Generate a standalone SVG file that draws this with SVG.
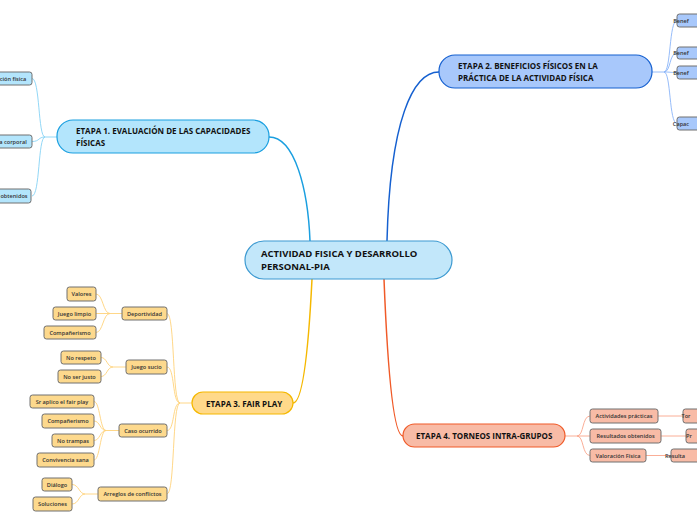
<svg xmlns="http://www.w3.org/2000/svg" width="697" height="520" viewBox="0 0 697 520">
<style>
.t{font-family:"Open Sans","Noto Sans","Liberation Sans",sans-serif;font-weight:bold;fill:#111}
.s{font-family:"Open Sans","Noto Sans","Liberation Sans",sans-serif;font-size:5.6px;font-weight:600;fill:#333;text-anchor:middle}
.sb{stroke:#707070;stroke-width:1}
.c{fill:none}
.b1{fill:#b3e5fc}
.b2{fill:#a8c8fb}
.b3{fill:#fdd98d}
.b4{fill:#f8bba6}
</style>
<rect width="697" height="520" fill="#fff"/>
<g id="connectors" class="c">
<path d="M269,137 C295,137 308,190 310,241" stroke="#1a9fe0" stroke-width="1.5"/>
<path d="M387,241 C390,120 413,72 439,72" stroke="#1560d0" stroke-width="1.5"/>
<path d="M312,279 C308,360 302,403 293,403" stroke="#f5b800" stroke-width="1.5"/>
<path d="M384,279 C388,380 394,436 403,436" stroke="#f05a28" stroke-width="1.5"/>
<g stroke="#86d3f5" stroke-width="0.9">
<path d="M57,137 H45"/>
<path d="M45,137 C38,137 40,78.5 32,78.5"/>
<path d="M45,137 C38,137 40,141.5 32,141.5"/>
<path d="M45,137 C38,137 40,196 32,196"/>
</g>
<g stroke="#8ab4f8" stroke-width="0.9">
<path d="M652,72 H664"/>
<path d="M664,72 C671,72 669,20.5 677,20.5"/>
<path d="M664,72 C671,72 669,53 677,53"/>
<path d="M664,72 C671,72 669,72.5 677,72.5"/>
<path d="M664,72 C671,72 669,123.5 677,123.5"/>
</g>
<g stroke="#ffd27a" stroke-width="0.9">
<path d="M192,403 H180"/>
<path d="M180,403 C172,403 175,313.5 167,313.5"/>
<path d="M180,403 C172,403 175,367 167,367"/>
<path d="M180,403 C172,403 175,430.5 167,430.5"/>
<path d="M180,403 C172,403 175,494 167,494"/>
<path d="M122,313.5 H110"/>
<path d="M110,313.5 C103,313.5 103,294 96,294"/>
<path d="M110,313.5 H96"/>
<path d="M110,313.5 C103,313.5 103,332.5 96,332.5"/>
<path d="M126,367 H113"/>
<path d="M113,367 C107,367 107,357.5 101,357.5"/>
<path d="M113,367 C107,367 107,376.5 101,376.5"/>
<path d="M119,430.5 H106"/>
<path d="M106,430.5 C100,430.5 100,401.5 94,401.5"/>
<path d="M106,430.5 C100,430.5 100,421 94,421"/>
<path d="M106,430.5 C100,430.5 100,440.5 94,440.5"/>
<path d="M106,430.5 C100,430.5 100,460 94,460"/>
<path d="M98,494 H85"/>
<path d="M85,494 C79,494 79,484.5 72,484.5"/>
<path d="M85,494 C79,494 79,504 72,504"/>
</g>
<g stroke="#f9a58b" stroke-width="0.9">
<path d="M565,436 H577"/>
<path d="M577,436 C584,436 582,416 590,416"/>
<path d="M577,436 H590"/>
<path d="M577,436 C584,436 582,455.5 590,455.5"/>
<path d="M658,416 H683"/>
<path d="M661,436 H686"/>
<path d="M646,455.5 H671"/>
</g>
</g>
<g id="center">
<rect x="245" y="241" width="207" height="38" rx="19" fill="#c2e7fa" stroke="#3d9ad1" stroke-width="1.2"/>
<text class="t" font-size="9.5"><tspan x="261" y="257">ACTIVIDAD FISICA Y DESARROLLO</tspan><tspan x="261" y="270">PERSONAL-PIA</tspan></text>
</g>
<g id="etapa1">
<rect x="57" y="120" width="212" height="33" rx="16" fill="#b3e5fc" stroke="#1a9fe0" stroke-width="1.2"/>
<text class="t" font-size="8"><tspan x="76" y="134">ETAPA 1. EVALUACIÓN DE LAS CAPACIDADES</tspan><tspan x="76" y="145.5">FÍSICAS</tspan></text>
</g>
<g id="e1c1"><rect class="b1 sb" x="-10" y="72" width="42" height="13" rx="2.5"/><text class="s" x="13" y="80.5">ción física</text></g>
<g id="e1c2"><rect class="b1 sb" x="-10" y="135" width="42" height="13" rx="2.5"/><text class="s" x="13" y="143.5">a corporal</text></g>
<g id="e1c3"><rect class="b1 sb" x="-10" y="189" width="41" height="14" rx="2.5"/><text class="s" x="14" y="198">obtenidos</text></g>
<g id="etapa2">
<rect x="439" y="55" width="213" height="33" rx="16" fill="#a8c8fb" stroke="#1560d0" stroke-width="1.2"/>
<text class="t" font-size="8"><tspan x="458" y="69">ETAPA 2. BENEFICIOS FÍSICOS EN LA</tspan><tspan x="458" y="81">PRÁCTICA DE LA ACTIVIDAD FÍSICA</tspan></text>
</g>
<g id="e2c1"><rect class="b2 sb" x="677" y="14" width="30" height="13" rx="2.5"/><text class="s" x="681" y="22.5" text-anchor="start">Benef</text></g>
<g id="e2c2"><rect class="b2 sb" x="677" y="47" width="30" height="12" rx="2.5"/><text class="s" x="681" y="55" text-anchor="start">Benef</text></g>
<g id="e2c3"><rect class="b2 sb" x="677" y="66" width="30" height="13" rx="2.5"/><text class="s" x="681" y="74.5" text-anchor="start">Benef</text></g>
<g id="e2c4"><rect class="b2 sb" x="677" y="117" width="30" height="13" rx="2.5"/><text class="s" x="681" y="125.5" text-anchor="start">Capac</text></g>
<g id="etapa3">
<rect x="192" y="392" width="101" height="22" rx="11" fill="#ffd98a" stroke="#f5b800" stroke-width="1.2"/>
<text class="t" font-size="8" x="206" y="406.5">ETAPA 3. FAIR PLAY</text>
</g>
<g id="deportividad"><rect class="b3 sb" x="122" y="307" width="45" height="13" rx="2.5"/><text class="s" x="144.5" y="315.5">Deportividad</text></g>
<g id="valores"><rect class="b3 sb" x="67" y="287" width="29" height="14" rx="2.5"/><text class="s" x="81.5" y="296">Valores</text></g>
<g id="juegolimpio"><rect class="b3 sb" x="53" y="307" width="43" height="13" rx="2.5"/><text class="s" x="74.5" y="315.5">Juego limpio</text></g>
<g id="comp1"><rect class="b3 sb" x="44" y="326" width="52" height="13" rx="2.5"/><text class="s" x="70" y="334.5">Compañerismo</text></g>
<g id="juegosucio"><rect class="b3 sb" x="126" y="360" width="41" height="14" rx="2.5"/><text class="s" x="146.5" y="369">Juego sucio</text></g>
<g id="norespeto"><rect class="b3 sb" x="61" y="351" width="40" height="13" rx="2.5"/><text class="s" x="81" y="359.5">No respeto</text></g>
<g id="noserjusto"><rect class="b3 sb" x="58" y="370" width="43" height="13" rx="2.5"/><text class="s" x="79.5" y="378.5">No ser justo</text></g>
<g id="caso"><rect class="b3 sb" x="119" y="424" width="48" height="13" rx="2.5"/><text class="s" x="143" y="432.5">Caso ocurrido</text></g>
<g id="sraplico"><rect class="b3 sb" x="30" y="395" width="64" height="13" rx="2.5"/><text class="s" x="62" y="403.5">Sr aplico el fair play</text></g>
<g id="comp2"><rect class="b3 sb" x="42" y="414" width="52" height="14" rx="2.5"/><text class="s" x="68" y="423">Compañerismo</text></g>
<g id="notrampas"><rect class="b3 sb" x="52" y="434" width="42" height="13" rx="2.5"/><text class="s" x="73" y="442.5">No trampas</text></g>
<g id="convivencia"><rect class="b3 sb" x="37" y="453" width="57" height="14" rx="2.5"/><text class="s" x="65.5" y="462">Convivencia sana</text></g>
<g id="arreglos"><rect class="b3 sb" x="98" y="487" width="69" height="14" rx="2.5"/><text class="s" x="132.5" y="496">Arreglos de conflictos</text></g>
<g id="dialogo"><rect class="b3 sb" x="42" y="478" width="30" height="13" rx="2.5"/><text class="s" x="57" y="486.5">Diálogo</text></g>
<g id="soluciones"><rect class="b3 sb" x="33" y="497" width="39" height="14" rx="2.5"/><text class="s" x="52.5" y="506">Soluciones</text></g>
<g id="etapa4">
<rect x="403" y="424" width="162" height="23" rx="11.5" fill="#f8bba6" stroke="#f05a28" stroke-width="1.2"/>
<text class="t" font-size="8" x="416" y="438.5">ETAPA 4. TORNEOS INTRA-GRUPOS</text>
</g>
<g id="actividades"><rect class="b4 sb" x="590" y="409" width="68" height="14" rx="2.5"/><text class="s" x="624" y="418">Actividades prácticas</text></g>
<g id="resultados"><rect class="b4 sb" x="590" y="429" width="71" height="14" rx="2.5"/><text class="s" x="625.5" y="438">Resultados obtenidos</text></g>
<g id="valoracion"><rect class="b4 sb" x="590" y="449" width="56" height="13" rx="2.5"/><text class="s" x="618" y="457.5">Valoración Física</text></g>
<g id="tor"><rect class="b4 sb" x="683" y="409" width="24" height="14" rx="2.5"/><text class="s" x="686" y="418" text-anchor="start">Tor</text></g>
<g id="pr"><rect class="b4 sb" x="686" y="429" width="21" height="14" rx="2.5"/><text class="s" x="689" y="438" text-anchor="start">Pr</text></g>
<g id="resulta"><rect class="b4 sb" x="671" y="449" width="36" height="13" rx="2.5"/><text class="s" x="675" y="457.5" text-anchor="start">Resulta</text></g>
</svg>
